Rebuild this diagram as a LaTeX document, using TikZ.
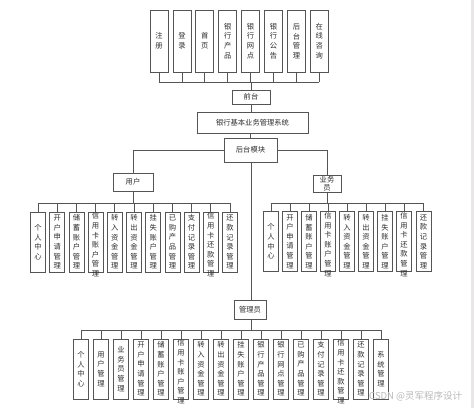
\documentclass[tikz,border=0pt]{standalone}
\usepackage{fontspec}
\setmainfont{Noto Sans CJK SC}
\definecolor{lc}{RGB}{85,85,85}
\definecolor{tc}{RGB}{45,45,45}
\definecolor{wmc}{RGB}{185,185,185}
\definecolor{bar}{RGB}{232,230,230}
\newcommand\vb[4]{\node[vbox] (#1) at (#2,#3) {};\node[txt] at (#1) {#4};}
\newcommand\vbt[4]{\node[vbox] (#1) at (#2,#3) {};\node[txt,anchor=north] at ([yshift=-1pt]#1.north) {#4};}
\begin{document}
\begin{tikzpicture}[x=1pt,y=-1pt,
  box/.style={draw=lc,line width=0.8pt,inner sep=0pt,fill=white},
  vbox/.style={box,minimum width=15pt,minimum height=60pt},
  topbox/.style={box,minimum width=18pt,minimum height=62pt},
  txt/.style={font=\fontsize{7.3}{9.6}\selectfont,align=center,inner sep=0pt,text=tc},
  conn/.style={draw=lc,line width=0.8pt}]
\useasboundingbox (0,0) rectangle (474,408);
\fill[bar] (470.5,0) rectangle (474,408);

% top row
\foreach \t [count=\i from 0] in {注\\册,登\\录,首\\页,银\\行\\产\\品,银\\行\\网\\点,银\\行\\公\\告,后\\台\\管\\理,在\\线\\咨\\询}{
  \node[topbox] (t\i) at ({159+22.9*\i},41) {};
  \node[txt] at (t\i) {\t};
}
\coordinate (busT) at (251,82);
\node[box,minimum width=38pt,minimum height=14pt,txt] (qt) at (251,97) {前台};
\node[box,minimum width=111pt,minimum height=21pt,txt] (sys) at (252.5,122.5) {银行基本业务管理系统};
\node[box,minimum width=53pt,minimum height=24pt,txt] (ht) at (250.5,150) {后台模块};
\node[box,minimum width=40pt,minimum height=18pt,txt] (yh) at (133,182) {用户};
\node[box,minimum width=28pt,minimum height=17pt,txt,font=\fontsize{7.3}{8.2}\selectfont] (yw) at (327,183.5) {业务\\员};
\node[box,minimum width=32pt,minimum height=19pt,txt] (gl) at (250,309.5) {管理员};

\foreach \i in {0,...,7}{\draw[conn] (t\i.south) -- (t\i.south |- busT);}
\draw[conn] (t0.south |- busT) -- (t7.south |- busT);
\draw[conn] (busT) -- (busT |- qt.north);
\draw[conn] (qt.south) -- (qt.south |- sys.north);
\draw[conn] (sys.south -| ht.north) -- (ht.north);
\draw[conn] (ht.west) -| (yh.north);
\draw[conn] (ht.east) -| (yw.north);
\draw[conn] (ht.south -| 251,0) -- (gl.north -| 251,0);

% user boxes
\vb{u0}{38}{242}{个\\人\\中\\心}
\vb{u1}{57.2}{242}{开\\户\\申\\请\\管\\理}
\vb{u2}{76.4}{242}{储\\蓄\\账\\户\\管\\理}
\vbt{u3}{95.6}{242}{信\\用\\卡\\账\\户\\管\\理}
\vb{u4}{114.8}{242}{转\\入\\资\\金\\管\\理}
\vb{u5}{134}{242}{转\\出\\资\\金\\管\\理}
\vb{u6}{153.2}{242}{挂\\失\\账\\户\\管\\理}
\vb{u7}{172.4}{242}{已\\购\\产\\品\\管\\理}
\vb{u8}{191.6}{242}{支\\付\\记\\录\\管\\理}
\vbt{u9}{210.8}{242}{信\\用\\卡\\还\\款\\管\\理}
\vb{u10}{230}{242}{还\\款\\记\\录\\管\\理}
\coordinate (busU) at (133,203);
\draw[conn] (yh.south) -- (busU);
\draw[conn] (u0.north |- busU) -- (u10.north |- busU);
\foreach \i in {0,...,10}{\draw[conn] (u\i.north |- busU) -- (u\i.north);}

% staff boxes
\vb{s0}{271}{241.5}{个\\人\\中\\心}
\vb{s1}{290}{241.5}{开\\户\\申\\请\\管\\理}
\vb{s2}{309}{241.5}{储\\蓄\\账\\户\\管\\理}
\vbt{s3}{328}{241.5}{信\\用\\卡\\账\\户\\管\\理}
\vb{s4}{347}{241.5}{转\\入\\资\\金\\管\\理}
\vb{s5}{366}{241.5}{转\\出\\资\\金\\管\\理}
\vb{s6}{385}{241.5}{挂\\失\\账\\户\\管\\理}
\vbt{s7}{404}{241.5}{信\\用\\卡\\还\\款\\管\\理}
\vb{s8}{423.5}{241.5}{还\\款\\记\\录\\管\\理}
\coordinate (busS) at (327,203);
\draw[conn] (yw.south) -- (busS);
\draw[conn] (s0.north |- busS) -- (s8.north |- busS);
\foreach \i in {0,...,8}{\draw[conn] (s\i.north |- busS) -- (s\i.north);}

% admin boxes
\vb{a0}{81}{369}{个\\人\\中\\心}
\vb{a1}{101}{369}{用\\户\\管\\理}
\vb{a2}{121}{369}{业\\务\\员\\管\\理}
\vb{a3}{141}{369}{开\\户\\申\\请\\管\\理}
\vb{a4}{161}{369}{储\\蓄\\账\\户\\管\\理}
\vbt{a5}{181}{369}{信\\用\\卡\\账\\户\\管\\理}
\vb{a6}{201}{369}{转\\入\\资\\金\\管\\理}
\vb{a7}{221}{369}{转\\出\\资\\金\\管\\理}
\vb{a8}{241}{369}{挂\\失\\账\\户\\管\\理}
\vb{a9}{261}{369}{银\\行\\产\\品\\管\\理}
\vb{a10}{281}{369}{银\\行\\网\\点\\管\\理}
\vb{a11}{301}{369}{已\\购\\产\\品\\管\\理}
\vb{a12}{321}{369}{支\\付\\记\\录\\管\\理}
\vbt{a13}{341}{369}{信\\用\\卡\\还\\款\\管\\理}
\vb{a14}{361}{369}{还\\款\\记\\录\\管\\理}
\vb{a15}{381}{369}{系\\统\\管\\理}
\coordinate (busA) at (251,330);
\draw[conn] (gl.south -| busA) -- (busA);
\draw[conn] (a0.north |- busA) -- (a15.north |- busA);
\foreach \i in {0,...,15}{\draw[conn] (a\i.north |- busA) -- (a\i.north);}

\node[font=\fontsize{9.5}{10}\selectfont,text=wmc,anchor=west,inner sep=0pt] (wm) at (369,396) {CSDN @灵军程序设计};
\end{tikzpicture}
\end{document}
